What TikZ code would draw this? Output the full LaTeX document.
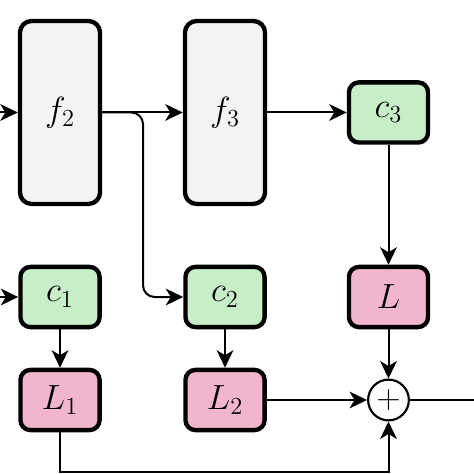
\documentclass[tikz,border=0pt]{standalone}
\usepackage{fix-cm}
\usetikzlibrary{arrows.meta, calc}
\definecolor{blockgray}{RGB}{242,243,243}
\definecolor{blockgreen}{RGB}{200,238,199}
\definecolor{blockpink}{RGB}{241,182,206}
\newcommand{\blockfont}{\fontsize{21}{25}\selectfont}
\tikzset{
  fblock/.style={
    draw=#1,
    line width=2.6pt,
    rounded corners=7pt,
    fill=blockgray,
    minimum width=1.69cm,
    minimum height=3.86cm,
    font=\blockfont
  },
  fblock/.default={black},
%
  cblock/.style={
    draw=#1,
    line width=2.6pt,
    rounded corners=6pt,
    fill=blockgreen,
    minimum width=1.67cm,
    minimum height=1.27cm,
    font=\blockfont
  },
  cblock/.default={black},
%
  lblock/.style={
    cblock=#1,
    fill=blockpink
  },
  lblock/.default={black},
%
  sumnode/.style={
    draw=#1,
    circle,
    line width=1.3pt,
    fill=white,
    inner sep=0pt,
    minimum size=0.86cm,
    font=\fontsize{20}{22}\selectfont
  },
  sumnode/.default={black},
%
  edge/.style={
    draw=#1,
    line width=1.2pt,
    -{Stealth[length=10.5pt,width=10pt,inset=3pt]}
  },
  edge/.default={black},
}
\begin{document}
\begin{tikzpicture}
\useasboundingbox (0,0) rectangle (10,10);

\node[fblock] at (1.266,7.627) (f2) {$f_2$};
\node[fblock] at (4.747,7.627) (f3) {$f_3$};
\node[cblock] at (8.196,7.627) (c3) {$c_3$};
\node[cblock] at (1.266,3.734) (c1) {$c_1$};
\node[cblock] at (4.747,3.734) (c2) {$c_2$};
\node[lblock] at (8.196,3.734) (L) {$L$};
\node[lblock] at (1.266,1.561) (L1) {$L_1$};
\node[lblock] at (4.747,1.561) (L2) {$L_2$};
\node[sumnode] at (8.196,1.561) (sum) {$+$};
\coordinate (inf) at (-0.3,7.627);
\coordinate (inc) at (-0.3,3.734);
\coordinate (split) at (3.017,3.734);
\coordinate (bottom) at (8.196,0.042);
\coordinate (out) at (10.3,1.561);
\draw[edge] (inf) -- (f2);
\draw[edge] (inc) -- (c1);
\draw[edge] (f2) -- (f3);
\draw[edge] (f3) -- (c3);
\draw[edge, rounded corners=7pt] (f2.east) -| (split) -- (c2.west);
\draw[edge] (c1) -- (L1);
\draw[edge] (c2) -- (L2);
\draw[edge] (c3) -- (L);
\draw[edge] (L) -- (sum);
\draw[edge] (L2) -- (sum);
\draw[edge] (L1.south) |- (bottom) -- (sum.south);
\draw[line width=1.2pt] (sum) -- (out);

\end{tikzpicture}
\end{document}
